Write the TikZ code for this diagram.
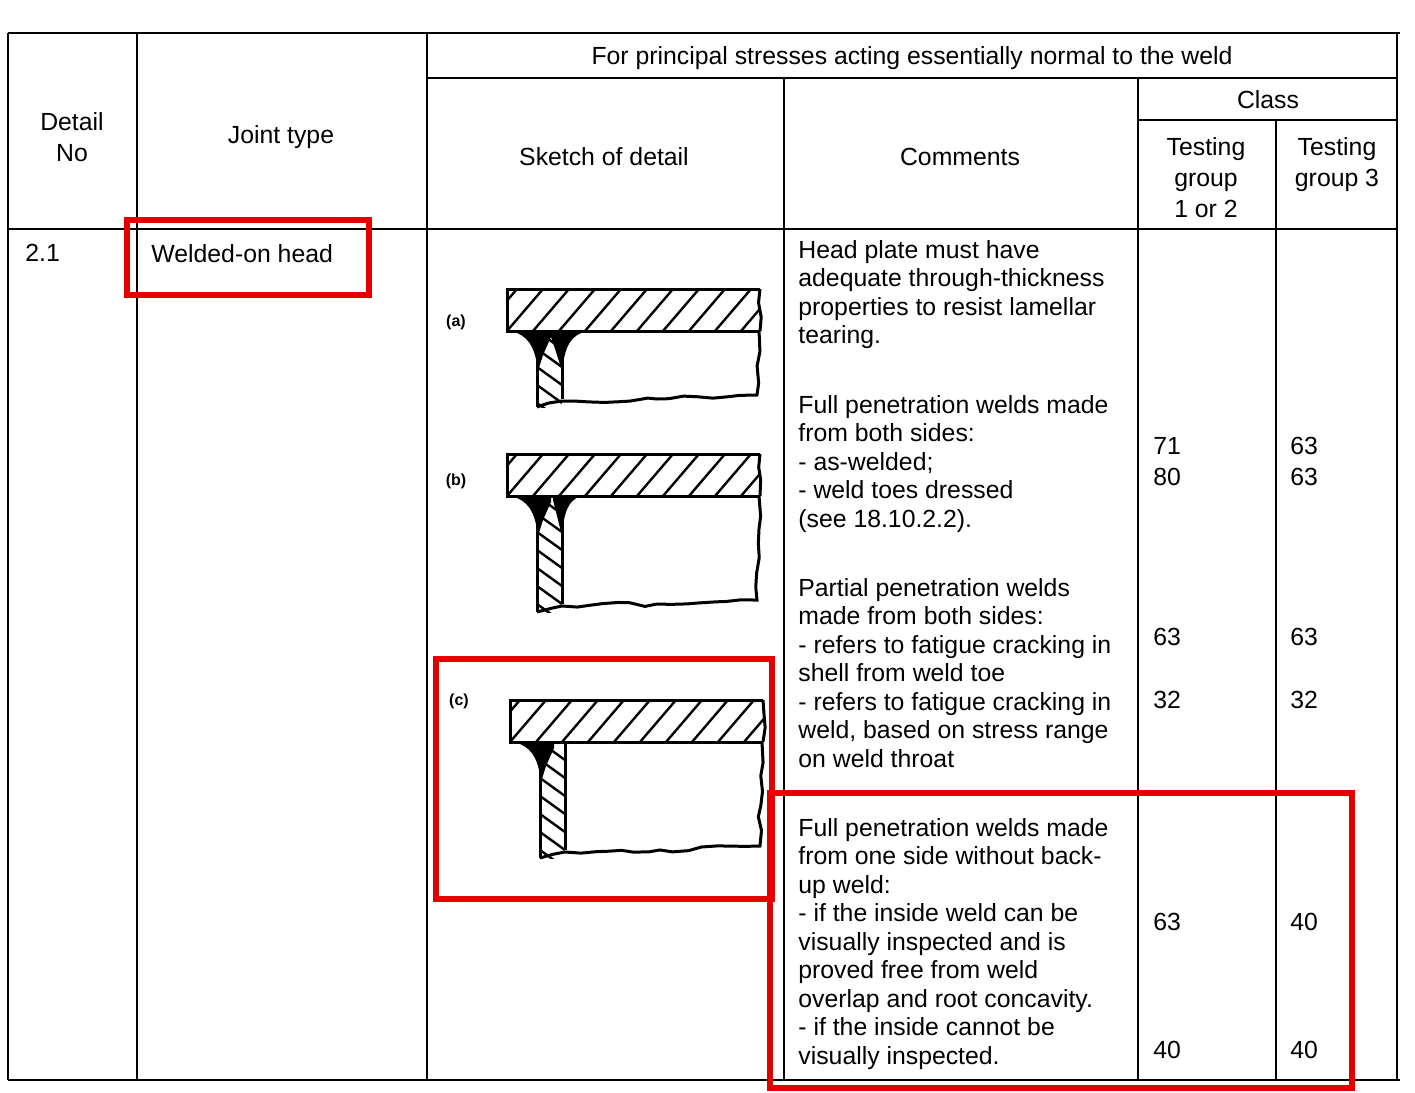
\documentclass[tikz,border=0pt]{standalone}
\usepackage{fontspec}
\setmainfont{Liberation Sans}
\usetikzlibrary{decorations.pathmorphing}
\tikzset{
  rule/.style={line width=1.4pt},
  redbox/.style={draw=red!90!black,line width=3pt},
  txt/.style={inner sep=0pt,font=\fontsize{12.4}{14.25}\selectfont,align=left,anchor=north west},
  ctxt/.style={inner sep=0pt,font=\fontsize{12.4}{15.5}\selectfont,align=center},
  lbl/.style={inner sep=0pt,font=\fontsize{8}{9}\selectfont\bfseries},
  wavy/.style={decorate,decoration={random steps,segment length=7,amplitude=1.2}},
  sk/.style={line width=1.5pt}
}
\newcommand\weldsketch[3]{% #1 web bottom, #2 unused, #3 extra weld
  \begin{scope}
    \clip (0,0) rectangle (253,42);
    \foreach \i in {-2,...,12} \draw[line width=1.2pt] (\i*26,42) -- (\i*26+36,0);
  \end{scope}
  \begin{scope}
    \clip (30,42) rectangle (55,#1);
    \foreach \i in {0,...,9} \draw[line width=1.2pt] (30,42+\i*18) -- (55,60+\i*18);
  \end{scope}
  \draw[sk] (253,0) -- (0,0) -- (0,42) -- (253,42);
  \draw[sk,wavy] (253,0) -- (253,42);
  \draw[sk] (30,42) -- (30,#1);
  \draw[sk] (55,42) -- (55,#1-8);
  \draw[sk,wavy] (30,#1) -- (55,#1-6) -- (150,#1-8) -- (250,#1-12) -- (252,42);
  \fill (4,42) .. controls (20,46) and (28,56) .. (31,82) -- (36,66) -- (44,48) -- (44,42) -- cycle;
  #3
}
\begin{document}
\begin{tikzpicture}[x=0.5pt,y=-0.5pt]
\useasboundingbox (0,0) rectangle (1415,1093);
\fill[white] (0,0) rectangle (1415,1093);
% table rules
\draw[rule] (8,33) -- (1400,33);
\draw[rule] (427,78) -- (1397,78);
\draw[rule] (1138,120) -- (1397,120);
\draw[rule] (8,229) -- (1397,229);
\draw[rule] (8,1080) -- (1400,1080);
\foreach \x in {8,137,427,1397} \draw[rule] (\x,33) -- (\x,1080);
\draw[rule] (784,78) -- (784,1080);
\draw[rule] (1138,78) -- (1138,1080);
\draw[rule] (1276,120) -- (1276,1080);
% headers
\node[ctxt] (h1) at (72,137) {Detail\\No};
\node[ctxt] (h2) at (281,137) {Joint type};
\node[ctxt] (h3) at (912,58) {For principal stresses acting essentially normal to the weld};
\node[ctxt] (h4) at (604,157) {Sketch of detail};
\node[ctxt] (h5) at (960,157) {Comments};
\node[ctxt] (h6) at (1268,100) {Class};
\node[ctxt] (h7) at (1206,178) {Testing\\group\\1 or 2};
\node[ctxt] (h8) at (1337,165) {Testing\\group 3};
% row
\node[txt] (d) at (25,244) {2.1};
\node[txt] (j) at (151,244) {Welded-on head};
\node[txt] (c1) at (798,240) {Head plate must have\\adequate through-thickness\\properties to resist lamellar\\tearing.};
\node[txt] (c2) at (798,395) {Full penetration welds made\\from both sides:\\- as-welded;\\- weld toes dressed\\(see 18.10.2.2).};
\node[txt] (c3) at (798,578) {Partial penetration welds\\made from both sides:\\- refers to fatigue cracking in\\shell from weld toe\\- refers to fatigue cracking in\\weld, based on stress range\\on weld throat};
\node[txt] (c4) at (798,818) {Full penetration welds made\\from one side without back-\\up weld:\\- if the inside weld can be\\visually inspected and is\\proved free from weld\\overlap and root concavity.\\- if the inside cannot be\\visually inspected.};
\foreach \y/\a/\b in {446/71/63,477/80/63,637/63/63,700/32/32,922/63/40,1050/40/40}{
  \node[txt,anchor=west] at (1153,\y) {\a};
  \node[txt,anchor=west] at (1290,\y) {\b};
}
% sketches
\node[lbl] (la) at (456,322) {(a)};
\node[lbl] (lb) at (456,481) {(b)};
\node[lbl] (lc) at (459,701) {(c)};
\begin{scope}[shift={(507,289)}]
\weldsketch{118}{1}{\fill (80,42) .. controls (64,46) and (58,56) .. (55,82) -- (50,66) -- (44,48) -- (44,42) -- cycle;}
\end{scope}
\begin{scope}[shift={(507,454)}]
\weldsketch{158}{1}{\fill (74,42) .. controls (62,46) and (57,56) .. (55,82) -- (50,62) -- (46,46) -- (46,42) -- cycle;}
\end{scope}
\begin{scope}[shift={(510,700)}]
\weldsketch{158}{0}{}
\end{scope}
% red boxes
\draw[redbox] (127,220) rectangle (369,295);
\draw[redbox] (436,659) rectangle (772,899);
\draw[redbox] (770,793) rectangle (1352,1088);
\end{tikzpicture}
\end{document}
